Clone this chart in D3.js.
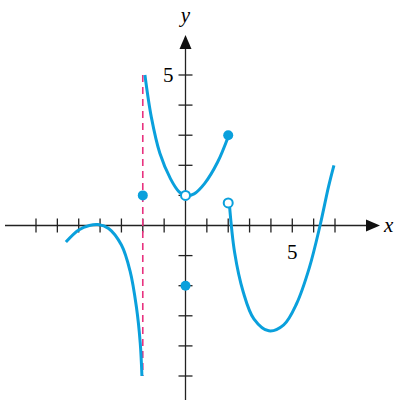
<!DOCTYPE html>
<html><head><meta charset="utf-8">
<script src="https://cdn.jsdelivr.net/npm/d3@7"></script>
<style>body{margin:0;background:#fff}</style></head>
<body><svg id="c" width="408" height="420"></svg>
<script>
const xTicks = [-7,-6,-5,-4,-3,-2,-1,1,2,3,4,5,6,7];
const yTicks = [-5,-4,-3,-2,-1,1,2,3,4,5];
const leftBranch = [[-5.6,-0.55],[-5,-0.15],[-4.5,0],[-4.1,0.03],[-3.6,-0.1],[-3,-0.65],[-2.6,-1.5],[-2.3,-2.7],[-2.12,-3.9],[-2.04,-5]];
const midBranch = [[-1.9,5],[-1.6,3.6],[-1.2,2.4],[-0.7,1.55],[-0.3,1.12],[0,1],[0.4,1.05],[0.9,1.4],[1.5,2.1],[2,2.95]];
const rightBranch = [[2.05,0.75],[2.3,-0.9],[2.7,-2.2],[3.2,-3.1],[3.9,-3.5],[4.6,-3.3],[5.2,-2.6],[5.8,-1.4],[6.3,0],[6.7,1.3],[6.95,2.0]];
const filledPts = [[-2,1],[0,-2],[2,3]];
const openPts = [[0,1],[2,0.75]];
const blue = "#0aa0dc";
const svg = d3.select("#c");
const x = d3.scaleLinear().domain([-7,7]).range([36,335]);
const y = d3.scaleLinear().domain([-5,5]).range([376,75]);
svg.append("line").attr("x1",5).attr("x2",370).attr("y1",y(0)).attr("y2",y(0)).attr("stroke","#222").attr("stroke-width",1.3);
svg.append("path").attr("d",`M${380},${y(0)} L366,${y(0)-6} L366,${y(0)+6}Z`).attr("fill","#111");
svg.append("line").attr("x1",x(0)).attr("x2",x(0)).attr("y1",400).attr("y2",46).attr("stroke","#222").attr("stroke-width",1.3);
svg.append("path").attr("d",`M${x(0)},35 L${x(0)-6},49 L${x(0)+6},49Z`).attr("fill","#111");
svg.selectAll(".xt").data(xTicks).join("line").attr("x1",d=>x(d)).attr("x2",d=>x(d)).attr("y1",y(0)-7).attr("y2",y(0)+7).attr("stroke","#222").attr("stroke-width",1.3);
svg.selectAll(".yt").data(yTicks).join("line").attr("y1",d=>y(d)).attr("y2",d=>y(d)).attr("x1",x(0)-7).attr("x2",x(0)+7).attr("stroke","#222").attr("stroke-width",1.3);
svg.append("text").attr("x",x(5)).attr("y",y(0)+33).attr("text-anchor","middle").attr("font-family","Liberation Serif").attr("font-size",21).text("5");
svg.append("text").attr("x",x(0)-12).attr("y",y(5)+7).attr("text-anchor","end").attr("font-family","Liberation Serif").attr("font-size",21).text("5");
svg.append("text").attr("x",x(0)).attr("y",22).attr("text-anchor","middle").attr("font-family","Liberation Serif").attr("font-style","italic").attr("font-size",21).text("y");
svg.append("text").attr("x",384).attr("y",y(0)+6).attr("font-family","Liberation Serif").attr("font-style","italic").attr("font-size",21).text("x");
svg.append("line").attr("x1",x(-2)).attr("x2",x(-2)).attr("y1",y(5)).attr("y2",y(-5)).attr("stroke","#e8327f").attr("stroke-width",1.6).attr("stroke-dasharray","7,5");
const line = d3.line().x(d=>x(d[0])).y(d=>y(d[1])).curve(d3.curveCatmullRom);
[leftBranch,midBranch,rightBranch].forEach(b=>svg.append("path").attr("d",line(b)).attr("fill","none").attr("stroke",blue).attr("stroke-width",3));
svg.selectAll(".fp").data(filledPts).join("circle").attr("cx",d=>x(d[0])).attr("cy",d=>y(d[1])).attr("r",5).attr("fill",blue);
svg.selectAll(".op").data(openPts).join("circle").attr("cx",d=>x(d[0])).attr("cy",d=>y(d[1])).attr("r",4.5).attr("fill","#fff").attr("stroke",blue).attr("stroke-width",2);
</script></body></html>
